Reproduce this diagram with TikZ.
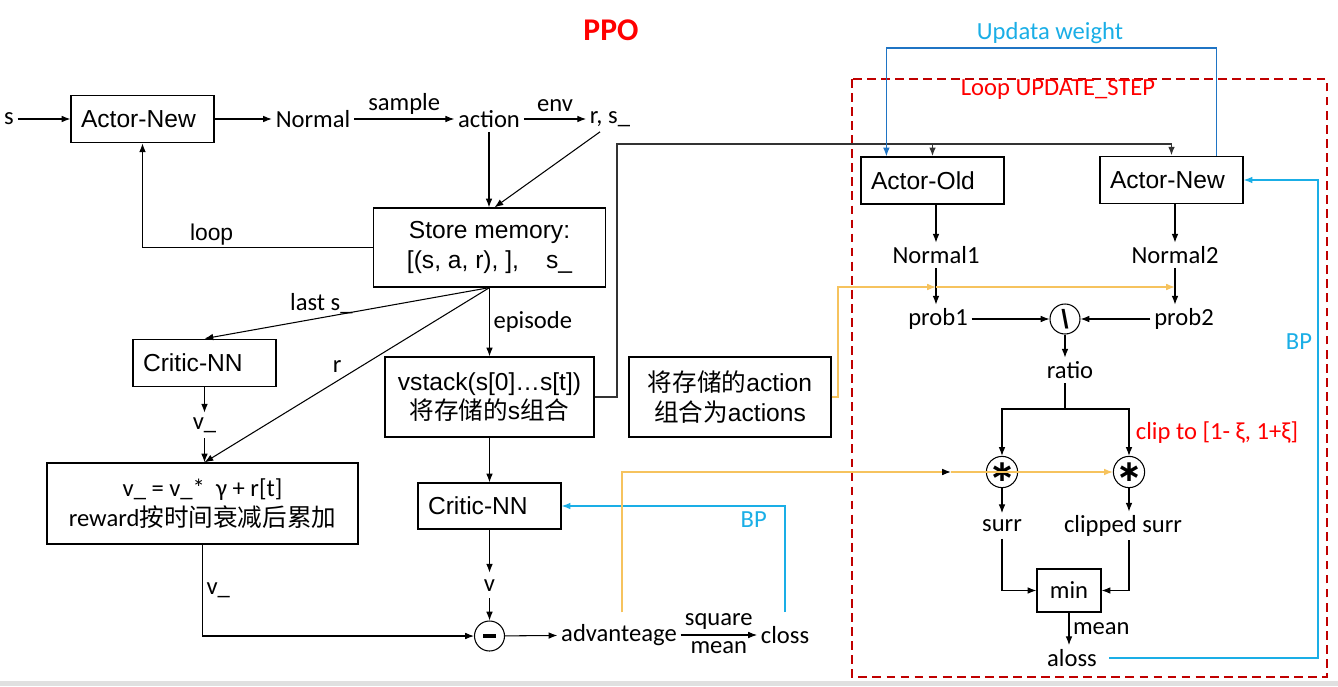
\documentclass[tikz,border=0pt]{standalone}
\usepackage{fontspec}
\setmainfont{Liberation Sans}
\newfontfamily\calfont{Carlito}
\newfontfamily\cjkfont{Noto Sans CJK SC}
\newfontfamily\symfont{DejaVu Sans}
\usepackage{tikz}
\usetikzlibrary{arrows.meta}
\definecolor{titlered}{HTML}{FF0000}
\definecolor{dashred}{HTML}{C00000}
\definecolor{wtblue}{HTML}{1F74C4}
\definecolor{bpblue}{HTML}{1AAEE6}
\definecolor{actorange}{HTML}{F6C35E}
\tikzset{
    >={Latex[length=5pt,width=3.8pt]},
    blk/.style={draw, line width=0.7pt, font=\fontsize{14}{17}\selectfont},
    onebox/.style={blk, text width=2.46cm, inner xsep=0.2cm, align=left, minimum height=0.95cm},
    lbl/.style={font=\calfont\fontsize{14}{16}\selectfont, inner sep=2pt, minimum height=0.5cm},
    opnode/.style={shape=circle, draw, line width=0.6pt, inner sep=0pt, minimum size=0.58cm},
    conn/.style={line width=0.6pt, ->},
    busline/.style={line width=1.1pt, black!80},
    orngline/.style={line width=0.7pt, actorange},
    wtline/.style={line width=0.7pt, wtblue},
    bpline/.style={line width=0.7pt, bpblue}}

\begin{document}
\begin{tikzpicture}[x=0.02cm, y=-0.02cm]

            \useasboundingbox (0,0) rectangle (1338,686);
            \fill[black!12] (0,681) rectangle (1338,686);
            \draw[dashred, line width=1.4pt, dash pattern=on 5pt off 3pt] (852,79) rectangle (1327,677);

            \node[font=\calfont\bfseries\fontsize{18}{20}\selectfont, text=titlered] (title) at (611,30) {PPO};
            \node[lbl, text=titlered] (looptitle) at (1058,90) {Loop UPDATE\_STEP};
            \node[lbl, text=bpblue] (updw) at (1050,33) {Updata weight};

            \node[lbl] (sin) at (9,119) {s};
            \node[onebox] (actL) at (142.5,119) {Actor-New};
            \node[lbl] (normal) at (313,119) {Normal};
            \node[lbl] (action) at (489,119) {action};
            \node[lbl] (rs) at (610,119) {r, s\_};
            \node[blk, minimum width=4.64cm, minimum height=1.58cm, align=center] (store) at (489.5,247.5) {Store memory:\\{}[(s, a, r), ],\hspace{1.1em}s\_};
            \node[onebox] (criticA) at (204.5,363) {Critic-NN};
            \node[lbl] (vA) at (204.5,425.5) {v\_};
            \node[blk, font=\calfont\fontsize{14}{17}\selectfont, minimum width=6.22cm, minimum height=1.62cm, align=center] (vupd) at (202.5,503.5) {v\_ = v\_*\ \ γ + r[t]\\reward{\cjkfont 按时间衰减后累加}};
            \node[blk, minimum width=4.18cm, minimum height=1.6cm, align=center] (vstack) at (489.5,397) {vstack(s[0]…s[t])\\{\cjkfont 将存储的}s{\cjkfont 组合}};
            \node[blk, minimum width=4.04cm, minimum height=1.6cm, align=center] (actbox) at (730,397) {{\cjkfont 将存储的}action\\{\cjkfont 组合为}actions};
            \node[onebox, minimum height=0.92cm] (critic2) at (489.5,506) {Critic-NN};
            \node[lbl] (vv) at (489.5,585.5) {v};
            \node[opnode, minimum width=0.56cm, minimum height=0.6cm] (minus) at (489.5,636) {\rule{7pt}{2pt}};
            \node[lbl] (adv) at (619,635) {advanteage};
            \node[lbl] (closs) at (785,635) {closs};

            \node[onebox, minimum height=0.94cm] (actO) at (932.5,180.5) {Actor-Old};
            \node[onebox] (actR) at (1171.5,180) {Actor-New};
            \node[lbl] (n1) at (936,255.5) {Normal1};
            \node[lbl] (n2) at (1175,255.5) {Normal2};
            \node[lbl] (p1) at (938,319) {prob1};
            \node[lbl] (p2) at (1184,319) {prob2};
            \node[opnode, minimum size=0.6cm, font=\bfseries\fontsize{15}{15}\selectfont] (div) at (1065,319) {\textbackslash};
            \node[lbl] (ratio) at (1070,370.5) {ratio};
            \node[opnode, font=\symfont\bfseries\fontsize{17}{17}\selectfont] (star1) at (1002,472) {∗};
            \node[opnode, font=\symfont\bfseries\fontsize{17}{17}\selectfont] (star2) at (1129,472) {∗};
            \node[lbl, text=titlered] (clipnote) at (1217,433) {clip to [1- ξ, 1+ξ]};
            \node[lbl] (surr) at (1002,526) {surr};
            \node[lbl] (clip) at (1123,526) {clipped surr};
            \node[blk, font=\calfont\fontsize{14}{16}\selectfont, minimum width=1.28cm, minimum height=0.86cm] (minb) at (1069,590.5) {min};
            \node[lbl] (aloss) at (1072,658) {aloss};
            \node[lbl, text=bpblue] (bpR) at (1299,342) {BP};

            \coordinate (bus) at (617,144);
            \coordinate (wtop) at (1050,48);
            \coordinate (oup) at (838,287);
            \coordinate (ocross) at (951,472);
            \coordinate (split) at (1065,409);
            \coordinate (bpcorner) at (1318,420);

            \draw[conn] (sin) -- (actL);
            \draw[conn] (actL.east) -- (normal.west);
            \draw[conn] (normal) -- (action) node[lbl, midway, above] {sample};
            \draw[conn] (action) -- (rs) node[lbl, midway, above] {env};
            \draw[conn] (action.south) -- (action.south |- store.north);
            \draw[conn] ([xshift=-0.2cm]rs.south) -- ([xshift=0.1cm]store.north);
            \draw[conn] (store.west) -| (actL.south) node[font=\fontsize{13}{15}\selectfont, inner sep=1pt, pos=0.35, above] {loop};
            \draw[conn] (store.south) -- (criticA.north) node[lbl, pos=0.59, above] {last s\_};
            \draw[conn] (store.south) -- (vA.south |- vupd.north) node[lbl, pos=0.45, left=9pt] {r};
            \draw[conn] (store.south) -- (vstack.north) node[lbl, midway, right] {episode};
            \draw[conn] (criticA) -- (vA);
            \draw[conn] (vA.south) -- (vA.south |- vupd.north);
            \draw[conn] (vupd.south) |- (minus.west) node[lbl, pos=0.25, right] {v\_};
            \draw[conn] (vstack) -- (critic2);
            \draw[conn] (critic2) -- (vv);
            \draw[conn] (vv) -- (minus);
            \draw[conn] (minus) -- (adv);
            \draw[conn] (adv) -- (closs) node[lbl, midway, above] {square} node[lbl, midway, below] {mean};
            \draw[bpline, ->] ([yshift=0.2cm]closs.north) |- (critic2.east) node[lbl, text=bpblue, pos=0.57, below] {BP};

            \draw[busline, ->] (vstack.east) -| (bus) -| (actR.north);
            \draw[busline, ->] (bus -| actO.north) -- (actO.north);
            \draw[wtline, ->] ([xshift=-0.54cm]actR.north east) |- (wtop) -| ([xshift=0.52cm]actO.north west);

            \draw[conn] (n1.north |- actO.south) -- (n1.north);
            \draw[conn] (n2.north |- actR.south) -- (n2.north);
            \draw[conn] (n1.south) -- (n1.south |- p1.north);
            \draw[conn] (n2.south) -- (n2.south |- p2.north);
            \draw[orngline, ->] (actbox.east) -| (oup) -- (oup -| n1.south);
            \draw[orngline, ->] (oup -| n1.south) -- (oup -| n2.south);
            \draw[conn] (p1) -- (div);
            \draw[conn] (p2) -- (div);
            \draw[conn] (div.south) -- (div.south |- ratio.north);
            \draw[line width=0.6pt] (div.south |- ratio.south) -- (split);
            \draw[conn] (split) -| (star1.north);
            \draw[conn] (split) -| (star2.north);
            \draw[orngline, -{Latex[length=5pt,width=3.8pt,color=black]}] ([xshift=0.06cm,yshift=0.16cm]adv.north) |- (ocross);
            \draw[orngline, ->] (ocross) -- (star2.west);
            \draw[conn] (star1) -- (surr);
            \draw[conn] (star2.south) -- (star2.south |- clip.north);
            \draw[conn] (surr.south) |- (minb.west);
            \draw[conn] (star2.south |- clip.south) |- (minb.east);
            \draw[conn] (minb.south) -- (minb.south |- aloss.north) node[lbl, midway, right] {mean};
            \draw[bpline, ->, shorten <=5pt] (aloss.east) -| (bpcorner) |- (actR.east);

        \end{tikzpicture}
\end{document}
